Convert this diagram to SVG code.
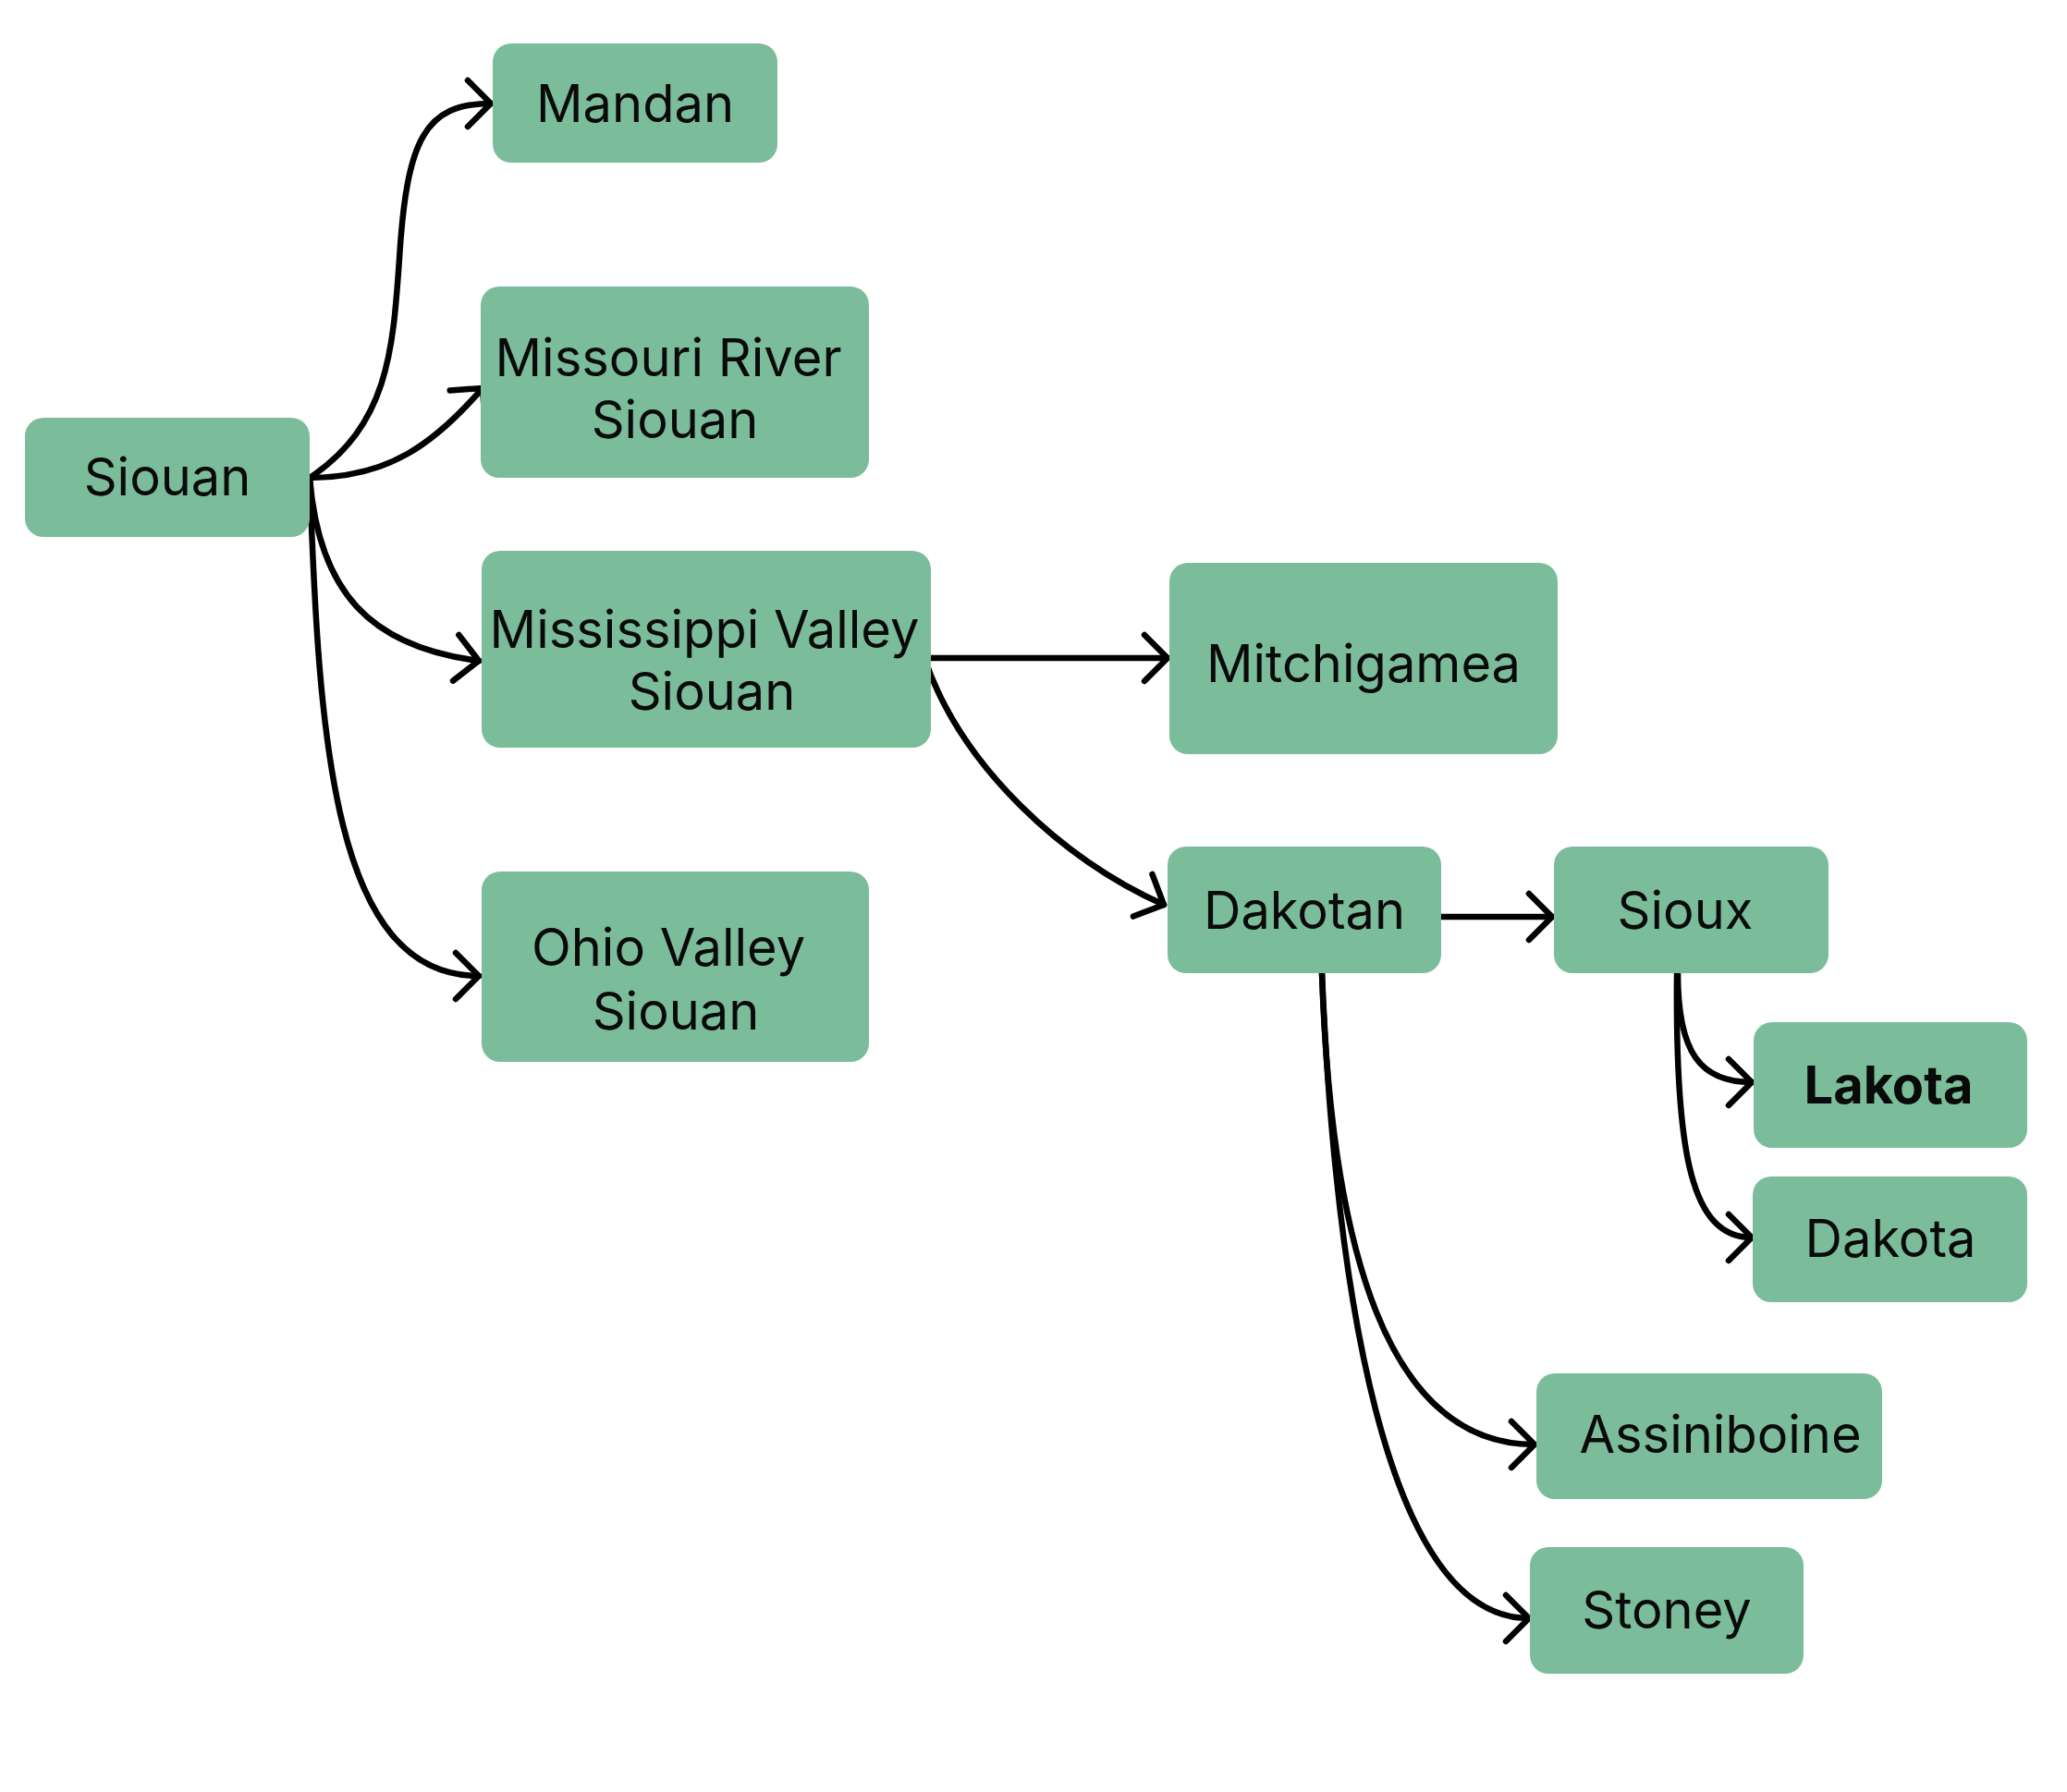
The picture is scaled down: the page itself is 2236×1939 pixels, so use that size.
<svg xmlns="http://www.w3.org/2000/svg" width="2236" height="1939" viewBox="0 0 2236 1939">
<defs>
<style>
.node rect{fill:#7bbd9a;}
.node text{font-family:Inter,"Noto Sans","Liberation Sans",sans-serif;font-size:56px;fill:#0a0a0a;text-anchor:middle;}
.edge{fill:none;stroke:#000;stroke-width:6.5;stroke-linecap:round;marker-end:url(#arr);}
</style>
<marker id="arr" viewBox="-32 -32 64 64" markerWidth="64" markerHeight="64" markerUnits="userSpaceOnUse" refX="0" refY="0" orient="auto">
<path d="M-25,-25 L0,0 L-25,25" fill="none" stroke="#000" stroke-width="6.5" stroke-linecap="round" stroke-linejoin="round"/>
</marker>
</defs>
<rect width="2236" height="1939" fill="#fff"/>
<g id="connectors">
<path class="edge" d="M335,517 C420,460 425,380 432,280 C440,150 460,112 531,112"/>
<path class="edge" d="M335,517 C420,517 470,480 522,420"/>
<path class="edge" d="M335,517 C345,640 400,700 518,715"/>
<path class="edge" d="M335,517 C345,800 360,1056 518,1056"/>
<path class="edge" d="M1000,712 L1263,712"/>
<path class="edge" d="M1000,712 C1040,830 1150,930 1259,979"/>
<path class="edge" d="M1559,992 L1679,992"/>
<path class="edge" d="M1430,1053 C1440,1350 1500,1563 1660,1563"/>
<path class="edge" d="M1430,1053 C1445,1400 1500,1751 1654,1751"/>
<path class="edge" d="M1815,1053 C1815,1140 1840,1171 1895,1171"/>
<path class="edge" d="M1814,1053 C1812,1250 1830,1339 1895,1339"/>
</g>
<g id="n-siouan" class="node"><rect x="27" y="452" width="308" height="129" rx="20"/><text x="181" y="536">Siouan</text></g>
<g id="n-mandan" class="node"><rect x="533" y="47" width="308" height="129" rx="20"/><text x="687" y="132">Mandan</text></g>
<g id="n-missouri" class="node"><rect x="520" y="310" width="420" height="207" rx="20"/><text x="723" y="407">Missouri River</text><text x="730" y="474">Siouan</text></g>
<g id="n-mississippi" class="node"><rect x="521" y="596" width="486" height="213" rx="20"/><text x="762" y="701">Mississippi Valley</text><text x="770" y="768">Siouan</text></g>
<g id="n-ohio" class="node"><rect x="521" y="943" width="419" height="206" rx="20"/><text x="723" y="1045">Ohio Valley</text><text x="731" y="1114">Siouan</text></g>
<g id="n-mitchigamea" class="node"><rect x="1265" y="609" width="420" height="207" rx="20"/><text x="1475" y="738">Mitchigamea</text></g>
<g id="n-dakotan" class="node"><rect x="1263" y="916" width="296" height="137" rx="20"/><text x="1411" y="1005">Dakotan</text></g>
<g id="n-sioux" class="node"><rect x="1681" y="916" width="297" height="137" rx="20"/><text x="1823" y="1005">Sioux</text></g>
<g id="n-lakota" class="node"><rect x="1897" y="1106" width="296" height="136" rx="20"/><text x="2043" y="1194" font-weight="bold">Lakota</text></g>
<g id="n-dakota" class="node"><rect x="1896" y="1273" width="297" height="136" rx="20"/><text x="2045" y="1360">Dakota</text></g>
<g id="n-assiniboine" class="node"><rect x="1662" y="1486" width="374" height="136" rx="20"/><text x="1861" y="1572">Assiniboine</text></g>
<g id="n-stoney" class="node"><rect x="1655" y="1674" width="296" height="137" rx="20"/><text x="1803" y="1762">Stoney</text></g>
</svg>
